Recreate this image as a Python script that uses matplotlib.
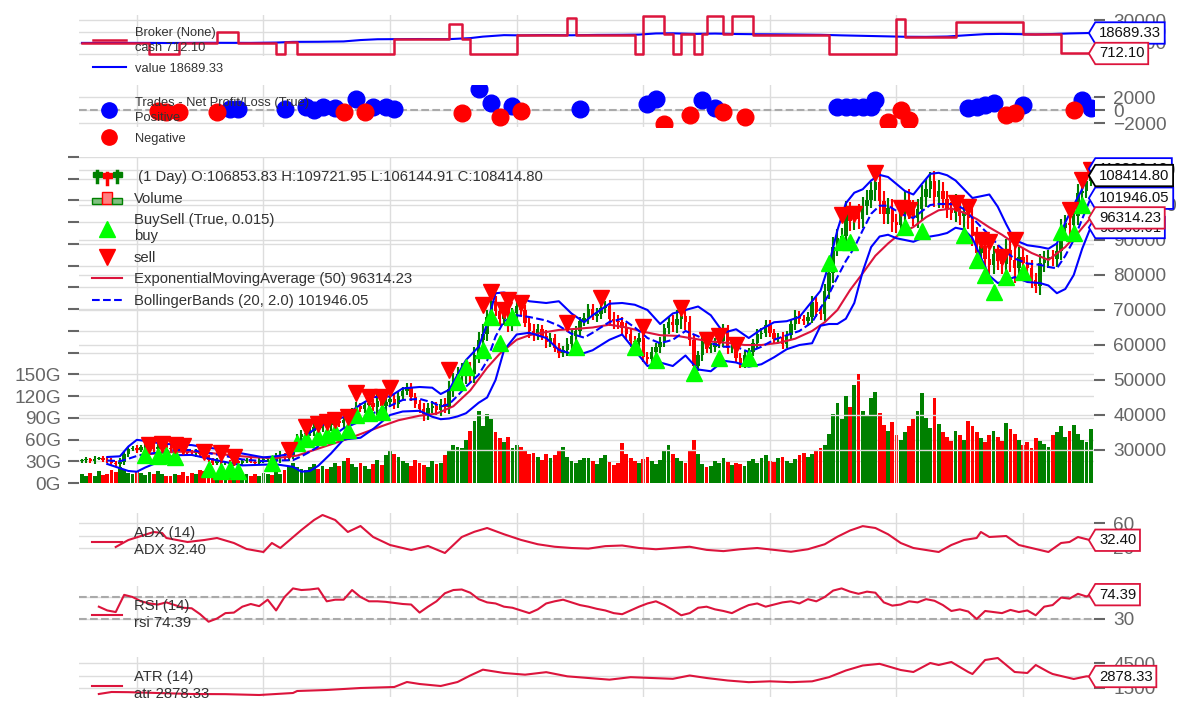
import matplotlib
matplotlib.use("Agg")
import matplotlib.pyplot as plt
import numpy as np
from matplotlib.path import Path
from matplotlib.patches import Rectangle
from matplotlib.lines import Line2D
from matplotlib.legend_handler import HandlerBase
from matplotlib.transforms import blended_transform_factory

plt.rcParams['font.family'] = ['Liberation Sans', 'DejaVu Sans']

# ---- price bars (thousands of USD), one entry per bar ----
first_open_k = 26.8
close_k = [
    27.0, 27.3, 26.8, 27.5, 27.6, 27.2, 27.0, 26.4, 26.0, 26.5,
    28.8, 30.2, 30.6, 30.0, 30.8, 30.9, 31.2, 30.4, 30.8, 31.5,
    30.7, 30.2, 30.5, 29.8, 29.5, 29.2, 29.0, 29.4, 28.8, 28.2,
    27.0, 26.4, 26.9, 26.2, 26.5, 26.0, 26.8, 26.3, 26.9, 27.2,
    26.7, 26.4, 27.0, 27.3, 27.6, 27.0, 27.8, 28.1, 27.8, 28.6,
    30.5, 33.8, 34.5, 34.8, 35.4, 36.6, 36.2, 37.3, 37.0, 37.8,
    38.4, 37.6, 38.6, 37.9, 41.0, 42.5, 41.8, 42.8, 43.5, 42.3,
    43.9, 42.6, 43.8, 44.5, 43.2, 45.5, 46.8, 48.0, 45.0, 43.2,
    41.6, 40.2, 41.9, 42.6, 41.3, 43.0, 42.4, 47.5, 49.5, 51.8,
    52.0, 52.5, 51.6, 57.0, 61.5, 63.2, 68.0, 72.5, 69.8, 67.5,
    70.2, 65.5, 69.0, 71.2, 70.0, 66.4, 64.0, 63.0, 64.5, 62.6,
    60.8, 61.9, 59.2, 57.8, 58.5, 60.4, 62.5, 64.0, 66.8, 67.6,
    70.2, 68.4, 68.9, 70.6, 71.0, 67.3, 66.8, 66.5, 64.8, 63.2,
    61.0, 60.8, 62.1, 56.7, 56.0, 58.0, 59.3, 60.8, 64.8, 66.7,
    65.8, 67.5, 68.3, 66.5, 61.5, 54.0, 57.0, 60.8, 58.9, 59.4,
    60.6, 61.2, 64.2, 59.0, 59.1, 56.2, 54.8, 57.0, 58.0, 60.5,
    63.2, 63.4, 65.8, 63.5, 61.8, 62.2, 60.3, 62.8, 66.0, 68.4,
    67.4, 66.8, 67.9, 72.3, 69.5, 68.8, 75.5, 80.5, 88.0, 90.5,
    91.0, 98.0, 95.5, 97.2, 96.0, 99.8, 101.5, 104.2, 106.5, 101.0,
    97.5, 99.2, 95.0, 94.4, 97.6, 101.5, 99.0, 96.3, 98.8, 102.4,
    104.5, 106.8, 102.3, 104.0, 101.7, 98.6, 97.8, 100.2, 96.8, 98.0,
    96.4, 91.2, 86.3, 88.2, 84.5, 82.8, 86.0, 84.0, 83.2, 87.2,
    84.4, 82.0, 85.0, 83.4, 82.0, 78.5, 76.8, 83.5, 84.3, 85.0,
    84.6, 86.8, 93.5, 94.8, 94.2, 96.8, 103.5, 104.0, 106.85383, 108.4148,
]
wick_k = [
    0.5, 0.6, 0.4, 0.7, 0.5, 0.6, 0.8, 0.6, 0.5, 1.2,
    0.9, 0.7, 0.6, 0.8, 0.5, 0.7, 0.6, 0.9, 0.8, 0.6,
    0.5, 0.7, 0.6, 0.5, 0.6, 0.8, 0.7, 0.9, 0.6, 0.8,
    0.5, 0.6, 0.7, 0.5, 0.4, 0.6, 0.5, 0.4, 0.5, 0.6,
    0.5, 0.4, 0.6, 0.7, 0.6, 0.8, 1.4, 1.6, 1.0, 0.9,
    1.1, 0.8, 1.2, 1.0, 0.9, 1.3, 1.1, 1.0, 1.4, 1.6,
    1.2, 1.0, 1.3, 1.1, 0.9, 1.2, 1.0, 1.1, 1.5, 1.2,
    2.2, 2.0, 1.8, 1.6, 1.4, 1.2, 1.3, 1.1, 1.0, 1.2,
    1.1, 1.8, 1.5, 1.4, 1.2, 1.6, 1.8, 2.2, 2.4, 2.0,
    2.8, 3.2, 2.6, 2.4, 2.2, 2.8, 2.0, 1.8, 1.6, 2.2,
    1.9, 1.7, 1.5, 1.6, 1.8, 1.4, 2.0, 1.9, 1.5, 1.3,
    1.6, 1.4, 1.2, 1.5, 1.3, 1.6, 1.8, 1.4, 1.3, 1.5,
    1.6, 1.4, 1.8, 1.6, 1.5, 1.9, 2.2, 1.8, 1.6, 1.5,
    1.7, 1.5, 1.4, 1.6, 1.3, 1.4, 1.2, 1.5, 1.3, 1.6,
    2.0, 2.4, 2.8, 2.2, 1.8, 1.6, 1.4, 1.5, 1.3, 1.2,
    1.4, 1.6, 1.8, 1.5, 1.3, 1.2, 1.4, 1.3, 1.1, 1.2,
    1.3, 1.4, 1.2, 1.3, 1.1, 1.2, 1.4, 1.3, 1.5, 1.6,
    1.4, 1.2, 1.5, 1.6, 1.4, 1.7, 2.0, 2.4, 2.8, 2.6,
    2.4, 3.2, 2.8, 2.6, 3.0, 2.6, 2.8, 2.4, 3.2, 3.6,
    3.0, 2.8, 2.6, 2.4, 2.8, 2.6, 3.0, 2.4, 2.8, 3.4,
    3.0, 2.6, 2.8, 3.2, 2.6, 2.4, 2.2, 2.8, 2.6, 3.6,
    3.2, 3.0, 2.6, 2.8, 3.0, 2.6, 2.4, 2.6, 2.8, 3.2,
    3.6, 4.2, 3.0, 2.6, 2.4, 2.2, 2.0, 2.4, 2.6, 2.2,
    2.0, 2.4, 2.6, 2.2, 2.8, 3.0, 2.4, 2.2, 2.0, 1.3,
]
volume_g = [
    12, 10, 14, 9, 16, 11, 13, 18, 15, 22, 20, 14, 12, 16, 14,
    11, 15, 13, 17, 12, 10, 9, 13, 11, 15, 10, 14, 12, 18, 17,
    16, 13, 11, 9, 12, 10, 14, 8, 11, 13, 9, 12, 10, 14, 12,
    11, 16, 13, 18, 24, 28, 22, 20, 18, 22, 26, 20, 24, 19, 22,
    28, 23, 30, 34, 26, 22, 28, 24, 20, 26, 32, 25, 38, 44, 40,
    36, 30, 27, 24, 32, 28, 25, 22, 30, 26, 28, 38, 45, 52, 50,
    48, 60, 72, 85, 100, 78, 95, 88, 70, 62, 56, 64, 48, 52, 50,
    45, 40, 42, 36, 32, 40, 34, 38, 44, 50, 36, 30, 28, 32, 34,
    35, 30, 26, 34, 38, 29, 25, 28,
    55, 40, 35,
    30, 28, 33, 36, 30, 26, 32, 45, 52, 40,
    34, 30, 28, 45, 60, 40, 26, 22, 24, 30,
    27, 34, 29, 25, 28, 26, 23, 30, 33, 28,
    35, 38, 31, 29, 34, 36, 30, 28, 33, 38,
    42, 36, 40, 45, 48, 52,
    68, 95, 110, 88, 120, 105, 135, 150, 100, 92, 118, 125, 96, 80, 72, 84, 66, 60, 70, 78,
    88, 100, 124, 90, 76, 117, 82, 70, 64, 58, 72, 66, 60, 85, 78, 70, 62, 56, 66, 72,
    64, 58, 83, 74, 68, 60, 52, 56, 48, 62, 58, 54, 50, 66, 70, 78, 64, 72, 80, 68,
    60, 56, 74,
]
ohlc_label = " (1 Day) O:106853.83 H:109721.95 L:106144.91 C:108414.80"

# ---- overlays on the price panel ----
bb_idx = [6, 9, 11, 13, 15, 19, 22, 26, 29, 33, 38, 43, 46, 50, 52, 54, 56, 59, 62, 66,
          69, 73, 76, 80, 83, 85, 87, 89, 91, 94, 96, 98, 100, 103, 106, 110, 113, 116, 119, 121,
          125, 128, 131, 134, 137, 140, 143, 146, 149, 152, 155, 158, 161, 164, 167, 170, 173,
          175, 177, 179, 181, 183, 185, 187, 189, 191, 193, 195, 197, 199, 201, 203, 205, 207, 209, 211, 213,
          215, 217, 219, 221, 224, 227, 229, 231, 233, 235, 237, 239]
bb_top_k = [28.0, 28.2, 31.0, 32.9, 32.6, 31.8, 31.6, 31.4, 30.8, 30.2,
            29.0, 27.9, 28.2, 29.0, 32.5, 35.0, 36.6, 38.2, 39.4, 43.0,
            45.1, 45.3, 47.6, 48.0, 47.8, 46.0, 47.2, 51.5, 55.7, 59.5,
            66.0, 74.8, 75.0, 74.0, 72.5, 72.0, 72.5, 69.0, 66.5, 68.5,
            71.8, 72.0, 71.5, 70.0, 66.0, 69.0, 70.0, 71.0, 68.5, 63.5,
            64.5, 62.0, 64.5, 66.5, 66.8, 68.0, 72.5,
            75.5, 83.0, 92.8, 100.5, 103.5, 104.5, 107.0, 108.6, 108.0, 106.0,
            104.0, 103.0, 106.0, 108.9, 109.2, 108.5, 107.0, 104.5, 102.0, 102.5,
            103.0, 99.5, 94.5, 90.0, 88.5, 88.0, 87.5, 89.0, 95.0, 100.0,
            104.5, 110.32618]
bb_mid_k = [27.0, 26.8, 27.5, 28.3, 28.8, 29.4, 30.0, 30.0, 29.3, 28.5,
            27.3, 26.8, 27.0, 27.1, 28.2, 29.5, 31.0, 33.6, 36.2, 38.2,
            40.5, 42.6, 44.3, 44.6, 43.6, 42.4, 43.1, 45.5, 48.1, 51.5,
            55.5, 62.4, 66.8, 68.5, 68.0, 67.0, 65.5, 63.2, 62.1, 63.5,
            66.6, 67.5, 65.0, 62.0, 60.5, 61.5, 64.0, 62.5, 60.5, 59.5,
            59.5, 58.0, 59.5, 61.5, 62.8, 64.0, 66.5,
            70.5, 74.5, 79.4, 84.0, 87.8, 92.8, 97.5, 99.8, 99.8, 98.3,
            97.0, 96.3, 98.2, 100.0, 100.3, 100.3, 100.2, 98.8, 96.3, 93.8,
            91.4, 88.6, 86.5, 84.7, 83.3, 82.9, 82.3, 81.9, 85.5, 90.0,
            96.0, 101.94605]
bb_bot_k = [26.0, 24.8, 24.0, 23.8, 25.0, 27.0, 28.5, 28.6, 27.8, 26.8,
            25.6, 25.8, 25.9, 25.2, 23.8, 24.0, 25.5, 29.0, 33.0, 33.5,
            36.0, 40.0, 41.0, 41.2, 39.5, 38.8, 39.0, 39.6, 40.5, 43.5,
            45.0, 50.0, 58.5, 63.0, 63.5, 62.0, 58.6, 57.5, 57.7, 58.5,
            61.5, 63.0, 58.5, 54.0, 55.0, 54.0, 57.0, 53.0, 52.5, 55.5,
            55.0, 53.8, 54.5, 56.5, 58.8, 60.0, 60.5,
            65.5, 66.0, 66.0, 67.5, 72.0, 81.0, 88.0, 91.0, 91.5, 90.5,
            90.0, 89.5, 90.5, 91.0, 91.4, 92.0, 93.5, 93.0, 90.5, 85.0,
            79.8, 77.7, 78.5, 79.4, 78.0, 77.7, 77.0, 74.8, 76.0, 80.0,
            87.5, 93.56601]
ema_idx = [14, 20, 25, 30, 36, 41, 46, 51, 54, 58, 63, 67, 71, 75, 80, 84, 88, 92, 96, 99,
           103, 106, 109, 113, 117, 121, 125, 129, 133, 137, 141, 145, 149, 153, 157, 161, 165, 169, 173, 176,
           179, 182, 185, 188, 191, 194, 197, 200, 203, 206, 209, 212, 215, 218, 221, 225, 229, 233, 236, 239]
ema_k = [28.6, 29.3, 29.6, 29.2, 28.4, 27.9, 27.7, 28.4, 29.6, 31.2, 33.2, 35.0, 36.8, 38.5, 39.8, 40.4, 42.5, 47.0, 53.5, 57.5,
         61.5, 62.8, 63.5, 64.3, 64.6, 65.0, 65.8, 65.0, 63.8, 62.8, 62.6, 61.8, 61.0, 60.6, 60.0, 60.0, 60.6, 61.8, 64.0, 66.5,
         70.0, 75.7, 80.5, 85.5, 89.0, 92.0, 93.7, 96.5, 98.5, 99.0, 97.8, 96.0, 93.6, 91.5, 89.0, 86.3, 84.3, 88.0, 92.0, 96.31423]
buy_idx = [15, 18, 20, 22, 30, 33, 35, 37, 45, 51, 53, 56, 58, 60, 63, 65, 68, 71, 89, 91,
           95, 97, 99, 102, 117, 131, 136, 145, 151, 158, 177, 180, 182, 195, 199, 209, 212, 214, 216, 219,
           223, 232, 235, 237]
buy_k = [28.6, 28.2, 28.6, 28.0, 24.5, 24.0, 24.6, 24.0, 26.3, 32.0, 33.0, 33.6, 34.3, 35.0, 35.6, 40.0, 40.6, 40.9, 49.4, 53.7,
         58.6, 68.0, 60.6, 68.0, 59.4, 59.4, 55.7, 52.0, 56.3, 56.3, 83.4, 89.4, 89.4, 93.7, 92.5, 91.4, 84.3, 80.0, 75.1, 79.4,
         80.9, 92.3, 92.0, 100.0]
sell_idx = [16, 19, 22, 24, 29, 33, 36, 49, 53, 56, 58, 60, 63, 65, 68, 71, 73, 87, 95, 97,
            100, 101, 104, 115, 123, 133, 142, 148, 151, 155, 180, 183, 188, 194, 196, 207, 210, 213, 215, 218,
            221, 234, 237, 239]
sell_k = [31.4, 31.6, 31.4, 31.2, 29.4, 29.1, 28.0, 30.0, 36.6, 37.3, 38.0, 38.6, 39.4, 46.3, 45.1, 45.1, 47.7, 52.9, 71.4, 75.1,
          70.0, 72.8, 72.0, 66.3, 73.5, 65.0, 70.5, 61.5, 62.5, 60.0, 97.0, 97.5, 109.0, 99.0, 98.5, 100.6, 99.4, 90.0, 89.5, 85.1,
          90.0, 98.6, 107.0, 110.0]

# ---- broker observer ----
value_idx = [0, 16, 20, 30, 40, 46, 50, 56, 62, 66, 70, 74, 80, 87, 92, 95, 100, 104, 110, 116,
             122, 128, 132, 136, 140, 145, 150, 155, 160, 165, 170, 175, 180, 185, 190, 195, 200, 205, 210, 214,
             218, 222, 226, 230, 234, 239]
value_usd = [10000, 10000, 9900, 10100, 10000, 10300, 10900, 11000, 11300, 12500, 13200, 13300, 13400, 13300, 14200, 15500, 16800, 16600, 16900, 16700,
             17000, 17100, 17300, 18300, 18400, 17900, 18200, 17800, 17600, 17500, 17300, 17100, 16600, 16200, 15800, 15400, 15300, 15600, 16800, 17700,
             17900, 17700, 17400, 17800, 18300, 18689.33]
cash_start = [0, 16, 23, 32, 37, 46, 48, 51, 74, 87, 90, 92, 103, 115, 117, 131, 133, 138, 140, 142,
              145, 147, 148, 152, 154, 159, 177, 193, 195, 207, 223, 232]
cash_usd = [10000, 700, 10100, 19300, 10000, 700, 10900, 700, 13300, 26300, 13300, 700, 16500, 31600, 16800, 700, 33200, 17800, 700, 17600,
            700, 17700, 33200, 17600, 33200, 17300, 700, 31000, 15300, 28600, 17800, 712.10]

# ---- trades observer ----
win_idx = [35, 37, 48, 53, 55, 57, 60, 65, 69, 72, 74, 94, 97, 102, 118, 134, 136, 147, 150, 179,
           181, 183, 185, 187, 188, 210, 212, 214, 216, 223, 237, 239]
win_pnl = [100, 150, 100, 500, 50, 500, 250, 1650, 500, 400, 150, 3200, 1050, 600, 150, 900, 1700, 1500, 300, 400,
           400, 500, 400, 500, 1500, 250, 500, 800, 1150, 800, 1540, 250]
loss_idx = [18, 20, 23, 32, 62, 67, 90, 99, 104, 138, 144, 152, 157, 191, 194, 196, 219, 221, 235]
loss_pnl = [-150, -300, -350, -300, -250, -300, -500, -1000, -100, -2200, -770, -300, -1050, -1850, -50, -1550, -770, -500, -50]

# ---- indicator panels ----
adx_idx = [8, 11, 17, 19, 20, 25, 29, 32, 36, 39, 43, 45, 47, 52, 55, 57, 60, 63, 66, 69,
           73, 76, 78, 82, 86, 90, 93, 96, 100, 104, 108, 112, 116, 120, 124, 128, 132, 136, 140, 144,
           148, 152, 156, 160, 164, 168, 172, 176, 179, 182, 185, 188, 191, 194, 197, 203, 206, 209, 212, 213,
           215, 219, 222, 225, 229, 232, 234, 236, 239]
adx_val = [21.6, 32.8, 45.6, 44.0, 36.0, 29.6, 32.8, 36.0, 28.0, 18.4, 13.6, 28.0, 20.0, 48.8, 64.8, 72.8, 64.8, 45.6, 55.2, 37.6,
           24.8, 20.0, 16.8, 23.2, 12.0, 37.6, 46.0, 52.0, 42.0, 33.0, 26.0, 22.0, 20.0, 19.0, 23.0, 24.0, 20.0, 18.0, 20.0, 22.0,
           17.0, 15.0, 18.0, 20.0, 17.0, 14.0, 18.0, 26.0, 38.0, 48.0, 55.0, 52.0, 42.0, 28.0, 20.0, 13.6, 24.8, 32.8, 36.0, 45.6,
           37.6, 39.2, 24.8, 20.0, 13.6, 28.0, 29.6, 37.6, 32.40]
rsi_idx = list(range(4, 239, 2)) + [239]
rsi_val = [52, 45, 42, 74, 70, 62, 58, 56, 60, 55,
           50, 49, 38, 24, 30, 40, 41, 52, 57, 53,
           65, 45, 70, 86, 83, 84, 86, 62, 65, 65,
           83, 70, 62, 62, 61, 59, 57, 56, 41, 52,
           62, 77, 83, 84, 78, 66, 60, 58, 52, 50,
           45, 40, 47, 58, 62, 65, 60, 55, 52, 48,
           45, 40, 38, 45, 52, 58, 62, 55, 46, 36,
           40, 50, 52, 47, 44, 40, 48, 55, 58, 52,
           56, 60, 62, 58, 66, 62, 70, 82, 86, 80,
           76, 80, 78, 60, 54, 56, 62, 60, 66, 63,
           55, 44, 47, 43, 29, 44, 42, 40, 46, 42,
           45, 36, 52, 55, 69, 67, 76, 71, 74.39]
atr_idx = [4, 7, 11, 18, 26, 34, 42, 50, 51, 58, 66, 74, 77, 80, 85, 89, 92, 95, 100, 105,
           110, 115, 120, 125, 130, 135, 140, 144, 148, 153, 158, 163, 168, 173, 177, 181, 185, 189, 194, 197,
           201, 203, 206, 210, 211, 214, 217, 219, 221, 224, 226, 229, 230, 233, 235, 238, 239]
atr_val = [780, 1020, 1000, 900, 780, 760, 660, 900, 1140, 1260, 1500, 1620, 2220, 1980, 1740, 2220, 3000, 3700, 3300, 3100,
           3400, 2900, 2700, 2500, 2800, 2700, 2600, 3000, 2700, 2400, 2200, 2300, 2200, 2300, 2800, 3600, 4200, 4400, 3660, 3420,
           4500, 4260, 4620, 3420, 3180, 4860, 5100, 4260, 3420, 3300, 4260, 3420, 3180, 2820, 2580, 2900, 2878.33]

grid_bars = [13, 43, 73, 103, 133, 163, 193, 223]

# ---- styling ----
W, H = 1190, 707
LEFT, RIGHT = 79, 1094
UP_C, DN_C = '#008000', '#ff0000'
CRIMSON = '#dc143c'
BLUE = '#0000ff'
TXT = '#333333'
TICK = '#666666'
GRID = '#dddddd'

fig = plt.figure(figsize=(W / 100, H / 100), dpi=100)


def panel(top, bottom):
    ax = fig.add_axes([LEFT / W, 1 - bottom / H, (RIGHT - LEFT) / W, (bottom - top) / H])
    for s in ax.spines.values():
        s.set_visible(False)
    ax.grid(True, color=GRID, lw=1.0)
    ax.set_axisbelow(True)
    ax.set_xlim(-0.7, 239.8)
    ax.set_xticks(grid_bars)
    ax.tick_params(axis='x', length=0, labelbottom=False)
    return ax


def right_ticks(ax, ticks, labels):
    ax.yaxis.tick_right()
    ax.set_yticks(ticks)
    ax.set_yticklabels(labels)
    ax.tick_params(axis='y', colors=TICK, labelsize=13.7, length=8, width=1.5, pad=6)


def tag_shape(x0, y0, width, height, mutation_size):
    pad = 0.25 * mutation_size
    x0, y0 = x0 - pad, y0 - pad
    w, h = width + 2 * pad, height + 2 * pad
    tip = 0.3 * h
    verts = [(x0, y0), (x0 + w, y0), (x0 + w, y0 + h), (x0, y0 + h), (x0 - tip, y0 + h / 2), (x0, y0)]
    return Path(verts, closed=True)


def tag(ax, y, text, edge):
    tr = blended_transform_factory(ax.transAxes, ax.transData)
    ax.text(1.0 + 5.0 / (RIGHT - LEFT), y, text, transform=tr, ha='left', va='center',
            fontsize=10.7, color='#111111', zorder=30, clip_on=False,
            bbox=dict(boxstyle=tag_shape, fc='white', ec=edge, lw=1.3))


class CandleIcon(HandlerBase):
    def create_artists(self, legend, orig_handle, xdescent, ydescent, width, height, fontsize, trans):
        arts = []
        w = width / 3.0
        for k, col in enumerate([UP_C, DN_C, UP_C]):
            x0 = -xdescent + k * w
            lift = -0.12 * height if k == 1 else 0.0
            arts.append(Line2D([x0 + 0.5 * w] * 2, [-ydescent - 0.1 * height + lift, -ydescent + 0.95 * height + lift],
                               color=col, lw=2.5, transform=trans))
            arts.append(Rectangle((x0 + 0.05 * w, -ydescent + 0.45 * height + lift), 0.9 * w, 0.45 * height,
                                  fc=col, ec=col, transform=trans))
        return arts


class VolumeIcon(HandlerBase):
    def create_artists(self, legend, orig_handle, xdescent, ydescent, width, height, fontsize, trans):
        arts = []
        w = width / 3.0
        spec = [('#80c080', UP_C, 0.55), ('#ff8080', DN_C, 1.0), ('#80c080', UP_C, 0.55)]
        for k, (fc, ec, hh) in enumerate(spec):
            arts.append(Rectangle((-xdescent + k * w, -ydescent - 0.1 * height), w, hh * height * 1.1,
                                  fc=fc, ec=ec, lw=1.0, transform=trans))
        return arts


OBS_LEGEND = dict(loc='upper left', bbox_to_anchor=(2.6 / (RIGHT - LEFT), 1.0), frameon=False,
                  fontsize=9.3, labelcolor=TXT, handlelength=2.5, handletextpad=0.75,
                  labelspacing=0.65, numpoints=1)


def obs_legend(ax, handles, labels):
    leg = ax.legend(handles, labels, **OBS_LEGEND)
    for t in leg.get_texts():
        t.set_linespacing(1.4)
    return leg


# ---- broker panel ----
ax_b = panel(15, 56)
ax_b.set_ylim(-1491, 34474)
right_ticks(ax_b, [0, 10000, 20000, 30000], ['0', '10000', '20000', '30000'])
value_line, = ax_b.plot(value_idx, value_usd, color=BLUE, lw=1.5, zorder=3)
cash_x = cash_start + [239]
cash_y = cash_usd + [cash_usd[-1]]
cash_line, = ax_b.plot(cash_x, cash_y, drawstyle='steps-post', color=CRIMSON, lw=1.8, zorder=4)
obs_legend(ax_b, [cash_line, value_line],
           [f'Broker (None)\ncash {cash_usd[-1]:.2f}', f'value {value_usd[-1]:.2f}'])
tag(ax_b, value_usd[-1], f'{value_usd[-1]:.2f}', BLUE)
tag(ax_b, cash_usd[-1], f'{cash_usd[-1]:.2f}', CRIMSON)

# ---- trades panel ----
ax_t = panel(85, 127)
ax_t.set_ylim(-2615, 3846)
right_ticks(ax_t, [-2000, 0, 2000], ['\u22122000', '0', '2000'])
ax_t.axhline(0, color='#aaaaaa', ls='--', lw=1.5, zorder=2)
ax_t.plot(win_idx, win_pnl, ls='', marker='o', ms=12, color=BLUE, zorder=3)
ax_t.plot(loss_idx, loss_pnl, ls='', marker='o', ms=12, color=DN_C, zorder=3)
pos_h = Line2D([], [], ls='', marker='o', ms=11, color=BLUE)
neg_h = Line2D([], [], ls='', marker='o', ms=11, color=DN_C)
obs_legend(ax_t, [pos_h, neg_h], ['Trades - Net Profit/Loss (True)\nPositive', 'Negative'])

# ---- price + volume panel ----
ax_p = panel(157, 483)
ax_v = ax_p.twinx()
for s in ax_v.spines.values():
    s.set_visible(False)
ax_p.set_zorder(ax_v.get_zorder() + 1)
ax_p.patch.set_visible(False)
ax_p.set_ylim(20571, 113714)
right_ticks(ax_p, [30000, 40000, 50000, 60000, 70000, 80000, 90000, 100000, 110000],
            ['30000', '40000', '50000', '60000', '70000', '80000', '90000', '100000', '110000'])
vol_ticks = list(range(0, 451, 30))
ax_v.set_ylim(0, 450e9)
ax_v.yaxis.tick_left()
ax_v.set_yticks([v * 1e9 for v in vol_ticks])
ax_v.set_yticklabels([f'{v}G' if v <= 150 else '' for v in vol_ticks])
ax_v.tick_params(axis='y', colors=TICK, labelsize=13.7, length=8, width=1.5, pad=5)
ax_v.grid(True, axis='y', color=GRID, lw=1.0)
ax_v.set_axisbelow(True)

x = np.arange(len(close_k))
c = np.array(close_k) * 1000
o = np.r_[first_open_k * 1000, c[:-1]]
wk = np.array(wick_k) * 1000
hi = np.maximum(o, c) + wk
lo = np.minimum(o, c) - wk
cols = np.where(c >= o, UP_C, DN_C)
ax_v.bar(x, np.array(volume_g) * 1e9, width=0.9, color=cols, lw=0)
ax_p.vlines(x, lo, hi, colors=cols, lw=1.5, zorder=3)
ax_p.bar(x, np.maximum(np.abs(c - o), 200), bottom=np.minimum(o, c), width=0.8, color=cols, lw=0, zorder=3)

ax_p.plot(ema_idx, np.array(ema_k) * 1000, color=CRIMSON, lw=1.5, zorder=4)
ax_p.plot(bb_idx, np.array(bb_top_k) * 1000, color=BLUE, lw=1.5, zorder=4)
ax_p.plot(bb_idx, np.array(bb_mid_k) * 1000, color=BLUE, lw=1.5, ls='--', zorder=4)
ax_p.plot(bb_idx, np.array(bb_bot_k) * 1000, color=BLUE, lw=1.5, zorder=4)
ax_p.plot(buy_idx, np.array(buy_k) * 1000, ls='', marker='^', ms=11.5, color='#00ff00', zorder=5)
ax_p.plot(sell_idx, np.array(sell_k) * 1000, ls='', marker='v', ms=11.5, color=DN_C, zorder=5)

candle_h = Rectangle((0, 0), 1, 1)
vol_h = Rectangle((0, 0), 1, 1)
buy_h = Line2D([], [], ls='', marker='^', ms=11.5, color='#00ff00')
sell_h = Line2D([], [], ls='', marker='v', ms=11.5, color=DN_C)
ema_h = Line2D([], [], color=CRIMSON, lw=1.5)
bb_h = Line2D([], [], color=BLUE, lw=1.5, ls='--')
ax_p.legend([candle_h, vol_h, buy_h, sell_h, ema_h, bb_h],
            [ohlc_label, 'Volume', 'BuySell (True, 0.015)\nbuy', 'sell',
             f'ExponentialMovingAverage (50) {ema_k[-1] * 1000:.2f}',
             f'BollingerBands (20, 2.0) {bb_mid_k[-1] * 1000:.2f}'],
            handler_map={candle_h: CandleIcon(), vol_h: VolumeIcon()},
            loc='upper left', frameon=False, fontsize=10.7, labelcolor=TXT, numpoints=1)
tag(ax_p, bb_top_k[-1] * 1000, f'{bb_top_k[-1] * 1000:.2f}', BLUE)
tag(ax_p, bb_bot_k[-1] * 1000, f'{bb_bot_k[-1] * 1000:.2f}', BLUE)
tag(ax_p, bb_mid_k[-1] * 1000, f'{bb_mid_k[-1] * 1000:.2f}', BLUE)
tag(ax_p, ema_k[-1] * 1000, f'{ema_k[-1] * 1000:.2f}', CRIMSON)
tag(ax_p, c[-1], f'{c[-1]:.2f}', '#000000')

# ---- ADX ----
ax_a = panel(513, 554)
ax_a.set_ylim(10.4, 76)
right_ticks(ax_a, [20, 40, 60], ['20', '40', '60'])
adx_line, = ax_a.plot(adx_idx, adx_val, color=CRIMSON, lw=1.5)
ax_a.legend([adx_line], [f'ADX (14)\nADX {adx_val[-1]:.2f}'], loc='upper left', frameon=False,
            fontsize=10.7, labelcolor=TXT)
tag(ax_a, adx_val[-1], f'{adx_val[-1]:.2f}', CRIMSON)

# ---- RSI ----
ax_r = panel(586, 625)
ax_r.set_ylim(17.9, 90.5)
right_ticks(ax_r, [30, 70], ['30', '70'])
ax_r.axhline(30, color='#aaaaaa', ls='--', lw=1.5, zorder=2)
ax_r.axhline(70, color='#aaaaaa', ls='--', lw=1.5, zorder=2)
rsi_line, = ax_r.plot(rsi_idx, rsi_val, color=CRIMSON, lw=1.5, zorder=3)
ax_r.legend([rsi_line], [f'RSI (14)\nrsi {rsi_val[-1]:.2f}'], loc='upper left', frameon=False,
            fontsize=10.7, labelcolor=TXT)
tag(ax_r, rsi_val[-1], f'{rsi_val[-1]:.2f}', CRIMSON)

# ---- ATR ----
ax_atr = panel(657, 697)
ax_atr.set_ylim(420, 5220)
right_ticks(ax_atr, [1500, 3000, 4500], ['1500', '3000', '4500'])
atr_line, = ax_atr.plot(atr_idx, atr_val, color=CRIMSON, lw=1.5)
ax_atr.legend([atr_line], [f'ATR (14)\natr {atr_val[-1]:.2f}'], loc='upper left', frameon=False,
              fontsize=10.7, labelcolor=TXT)
tag(ax_atr, atr_val[-1], f'{atr_val[-1]:.2f}', CRIMSON)

fig.savefig('out.png', dpi=100)
